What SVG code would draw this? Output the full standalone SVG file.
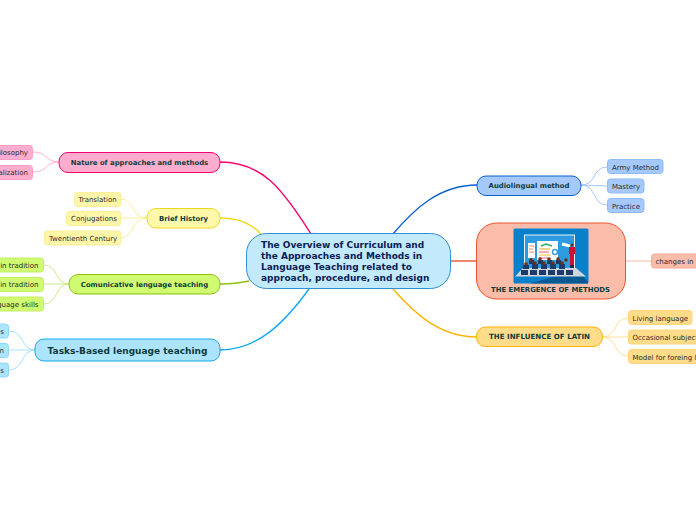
<svg xmlns="http://www.w3.org/2000/svg" width="696" height="520" viewBox="0 0 696 520">
<style>
text{font-family:"DejaVu Sans",Verdana,sans-serif}
.b{font-weight:bold;font-size:6.900px;fill:#0d3b3b;text-anchor:middle}
.l{font-size:7px;fill:#2b2b2b}
.r{text-anchor:end}
.c{fill:none;stroke-width:1.4}
.s{fill:none;stroke-width:1}
</style>
<rect width="696" height="520" fill="#fff"/>
<g id="connectors">
<path class="c" stroke="#f5006e" d="M220 162C262 162 282 188 311 234"/>
<path class="c" stroke="#f5d90a" d="M220 218C240 218 252 224 261 234"/>
<path class="c" stroke="#8fbf10" d="M220 284C232 284 240 283 249 281"/>
<path class="c" stroke="#12a8ee" d="M220 350C258 350 285 322 309 289"/>
<path class="c" stroke="#0a5fd0" d="M477 185C440 185 415 208 393 234"/>
<path class="c" stroke="#f0522a" d="M450 261H477"/>
<path class="c" stroke="#ffb300" d="M477 337C440 337 415 314 393 289"/>
<g class="s" stroke="#ffb0d0"><path d="M59 162C45 162 48 152 33 152"/><path d="M59 162C45 162 48 172 33 172"/></g>
<g class="s" stroke="#fbee9a"><path d="M147 218C131 218 134 199 121 199"/><path d="M147 218H121"/><path d="M147 218C131 218 134 238 121 238"/></g>
<g class="s" stroke="#cfe88f"><path d="M69 284C55 284 58 265 44 265"/><path d="M69 284H44"/><path d="M69 284C55 284 58 304 44 304"/></g>
<g class="s" stroke="#a5e0fb"><path d="M35 350C21 350 24 331 9 331"/><path d="M35 350H9"/><path d="M35 350C21 350 24 370 9 370"/></g>
<g class="s" stroke="#a5c6f8"><path d="M581 185C597 185 592 167 607 167"/><path d="M581 185L607 186"/><path d="M581 185C597 185 592 205 607 205"/></g>
<path class="s" stroke="#fbb9a5" d="M625 261H651"/>
<g class="s" stroke="#ffe09a"><path d="M602 337C618 337 613 318 628 318"/><path d="M602 337H628"/><path d="M602 337C618 337 613 356 628 356"/></g>
</g>
<g id="root"><rect x="246.500" y="233.500" width="204" height="55" rx="20" fill="#c3e9fd" stroke="#2f8fd0"/>
<text font-weight="bold" font-size="9" fill="#0b2055"><tspan x="261" y="248">The Overview of Curriculum and</tspan><tspan x="261" y="259">the Approaches and Methods in</tspan><tspan x="261" y="270">Language Teaching related to</tspan><tspan x="261" y="281">approach, procedure, and design</tspan></text></g>
<g id="nature"><rect x="59" y="152.500" width="161" height="20" rx="9" fill="#ffadcf" stroke="#f5006e"/><text class="b" x="139.500" y="165">Nature of approaches and methods</text></g>
<g id="nature-1"><rect x="-40" y="145.500" width="72.500" height="14" rx="3" fill="#ffadcf" stroke="#ffa0c8"/><text class="l r" x="28" y="155">ilosophy</text></g>
<g id="nature-2"><rect x="-40" y="165.500" width="72.500" height="14" rx="3" fill="#ffadcf" stroke="#ffa0c8"/><text class="l r" x="28" y="175">alization</text></g>
<g id="history"><rect x="147" y="208.500" width="73" height="19.500" rx="9" fill="#fff8a8" stroke="#f0d820"/><text class="b" x="183.500" y="221">Brief History</text></g>
<g id="history-1"><rect x="74.500" y="192.500" width="46.500" height="14" rx="3" fill="#fff6a8" stroke="#fbee9a"/><text class="l" x="78.500" y="202">Translation</text></g>
<g id="history-2"><rect x="66.500" y="211.500" width="54.500" height="14" rx="3" fill="#fff6a8" stroke="#fbee9a"/><text class="l" x="71" y="221">Conjugations</text></g>
<g id="history-3"><rect x="44.500" y="231" width="76.500" height="14" rx="3" fill="#fff6a8" stroke="#fbee9a"/><text class="l" x="49" y="241">Twentienth Century</text></g>
<g id="communicative"><rect x="69" y="274.500" width="151" height="19.500" rx="9" fill="#d0fb70" stroke="#8fbf10"/><text class="b" x="144.500" y="287">Comunicative lenguage teaching</text></g>
<g id="comm-1"><rect x="-40" y="258" width="83.500" height="14" rx="3" fill="#d0fb70" stroke="#c4ee68"/><text class="l r" x="38.500" y="268">in tradition</text></g>
<g id="comm-2"><rect x="-40" y="277.500" width="83.500" height="14" rx="3" fill="#d0fb70" stroke="#c4ee68"/><text class="l r" x="38.500" y="287">in tradition</text></g>
<g id="comm-3"><rect x="-40" y="297" width="83.500" height="14" rx="3" fill="#d0fb70" stroke="#c4ee68"/><text class="l r" x="38.500" y="307">guage skills</text></g>
<g id="tasks"><rect x="35" y="339" width="185" height="22" rx="9" fill="#ade4fd" stroke="#12a8ee"/><text class="b" style="font-size:9px" x="127.500" y="354">Tasks-Based lenguage teaching</text></g>
<g id="tasks-1"><rect x="-20" y="324" width="28.500" height="14" rx="3" fill="#ade4fd" stroke="#8fd6fa"/><text class="l r" x="4" y="334">s</text></g>
<g id="tasks-2"><rect x="-20" y="343.500" width="28.500" height="14" rx="3" fill="#ade4fd" stroke="#8fd6fa"/><text class="l r" x="4" y="353">n</text></g>
<g id="tasks-3"><rect x="-20" y="363" width="28.500" height="14" rx="3" fill="#ade4fd" stroke="#8fd6fa"/><text class="l r" x="4" y="373">s</text></g>
<g id="audio"><rect x="477" y="176" width="104" height="19.500" rx="9" fill="#a5c9fd" stroke="#0a5fd0"/><text class="b" x="529" y="188">Audiolingual method</text></g>
<g id="audio-1"><rect x="607.500" y="159.500" width="55.500" height="14" rx="3" fill="#a5c9fd" stroke="#90bbf5"/><text class="l" x="612" y="169.500">Army Method</text></g>
<g id="audio-2"><rect x="607.500" y="179" width="36.500" height="14" rx="3" fill="#a5c9fd" stroke="#90bbf5"/><text class="l" x="612" y="189">Mastery</text></g>
<g id="audio-3"><rect x="607.500" y="198.500" width="36.500" height="14" rx="3" fill="#a5c9fd" stroke="#90bbf5"/><text class="l" x="612" y="208.500">Practice</text></g>
<g id="emergence"><rect x="476.500" y="223" width="149" height="76" rx="20" fill="#fbbcaa" stroke="#f0522a"/>
<rect x="513.500" y="228.500" width="75" height="55" rx="1.500" fill="#0880cc"/>
<path d="M577 270L588 282V283.500H530Z" fill="#065a94"/>
<rect x="524.500" y="235" width="50" height="34" fill="#2e9be0" stroke="#e8f2fa" stroke-width="1"/>
<rect x="528" y="243" width="7" height="15" fill="#fff"/>
<path d="M529 246h5M529 249h4M529 252h5" stroke="#e88a50" stroke-width="1"/>
<rect x="537" y="241" width="21" height="19" fill="#fff"/>
<path d="M539 249H550" stroke="#f0a020" stroke-width="1"/><path d="M539 252H549" stroke="#e85a60" stroke-width="1"/><path d="M539 255H551" stroke="#f0c030" stroke-width="1"/><path d="M539 258H548" stroke="#e85a60" stroke-width="1"/>
<path d="M541 246L546 244L552 246" stroke="#30b060" stroke-width="1.500" fill="none"/>
<circle cx="555" cy="252" r="2.500" fill="none" stroke="#3aa0d8" stroke-width="1.500"/>
<path d="M562 244L570 246" stroke="#fff" stroke-width="3"/>
<path d="M569 247h6v7h-1v11h-4v-11h-1z" fill="#d01030"/><circle cx="572" cy="245" r="1.500" fill="#5a2a18"/><path d="M570 265h4v4h-4z" fill="#1a2a55"/>
<path d="M523 268H576L586 276.500H515Z" fill="#cfd6de"/>
<g fill="#1d3a6a"><rect x="521" y="270" width="7" height="5"/><rect x="530" y="270" width="7" height="5"/><rect x="539" y="270" width="7" height="5"/><rect x="548" y="270" width="7" height="5"/><rect x="557" y="270" width="7" height="5"/><rect x="566" y="270" width="7" height="5"/></g>
<g fill="#1d3a6a"><rect x="523" y="265" width="6" height="4"/><rect x="532" y="264" width="6" height="5"/><rect x="541" y="264" width="6" height="5"/><rect x="550" y="264" width="6" height="5"/><rect x="559" y="264" width="6" height="5"/><rect x="529" y="260" width="5" height="4"/><rect x="538" y="260" width="5" height="4"/><rect x="547" y="260" width="5" height="4"/><rect x="556" y="260" width="5" height="4"/></g>
<g fill="#6b3018"><circle cx="526" cy="264" r="1.800"/><circle cx="535" cy="263" r="1.800"/><circle cx="544" cy="263" r="1.800"/><circle cx="553" cy="263" r="1.800"/><circle cx="562" cy="263" r="1.800"/><circle cx="531" cy="260" r="1.800"/><circle cx="540" cy="259" r="1.800"/><circle cx="549" cy="259" r="1.800"/><circle cx="558" cy="259" r="1.800"/><circle cx="566" cy="260" r="1.800"/></g>
<text class="b" x="550.500" y="292">THE EMERGENCE OF METHODS</text></g>
<g id="emergence-1"><rect x="651.500" y="254" width="60" height="14" rx="3" fill="#fbbcaa" stroke="#f8ab95"/><text class="l" x="655.500" y="264">changes in t</text></g>
<g id="latin"><rect x="476.500" y="327" width="126" height="19.500" rx="9" fill="#ffdc8a" stroke="#ffb300"/><text class="b" x="539.500" y="339" style="font-size:7.100px">THE INFLUENCE OF LATIN</text></g>
<g id="latin-1"><rect x="628.500" y="310.500" width="63.500" height="14" rx="3" fill="#ffdc8a" stroke="#ffd480"/><text class="l" x="632.500" y="320.500">Living language</text></g>
<g id="latin-2"><rect x="628.500" y="330" width="90" height="14" rx="3" fill="#ffdc8a" stroke="#ffd480"/><text class="l" x="632.500" y="340">Occasional subject</text></g>
<g id="latin-3"><rect x="628.500" y="349.500" width="90" height="14" rx="3" fill="#ffdc8a" stroke="#ffd480"/><text class="l" x="632.500" y="359.500">Model for foreing l</text></g>
</svg>
